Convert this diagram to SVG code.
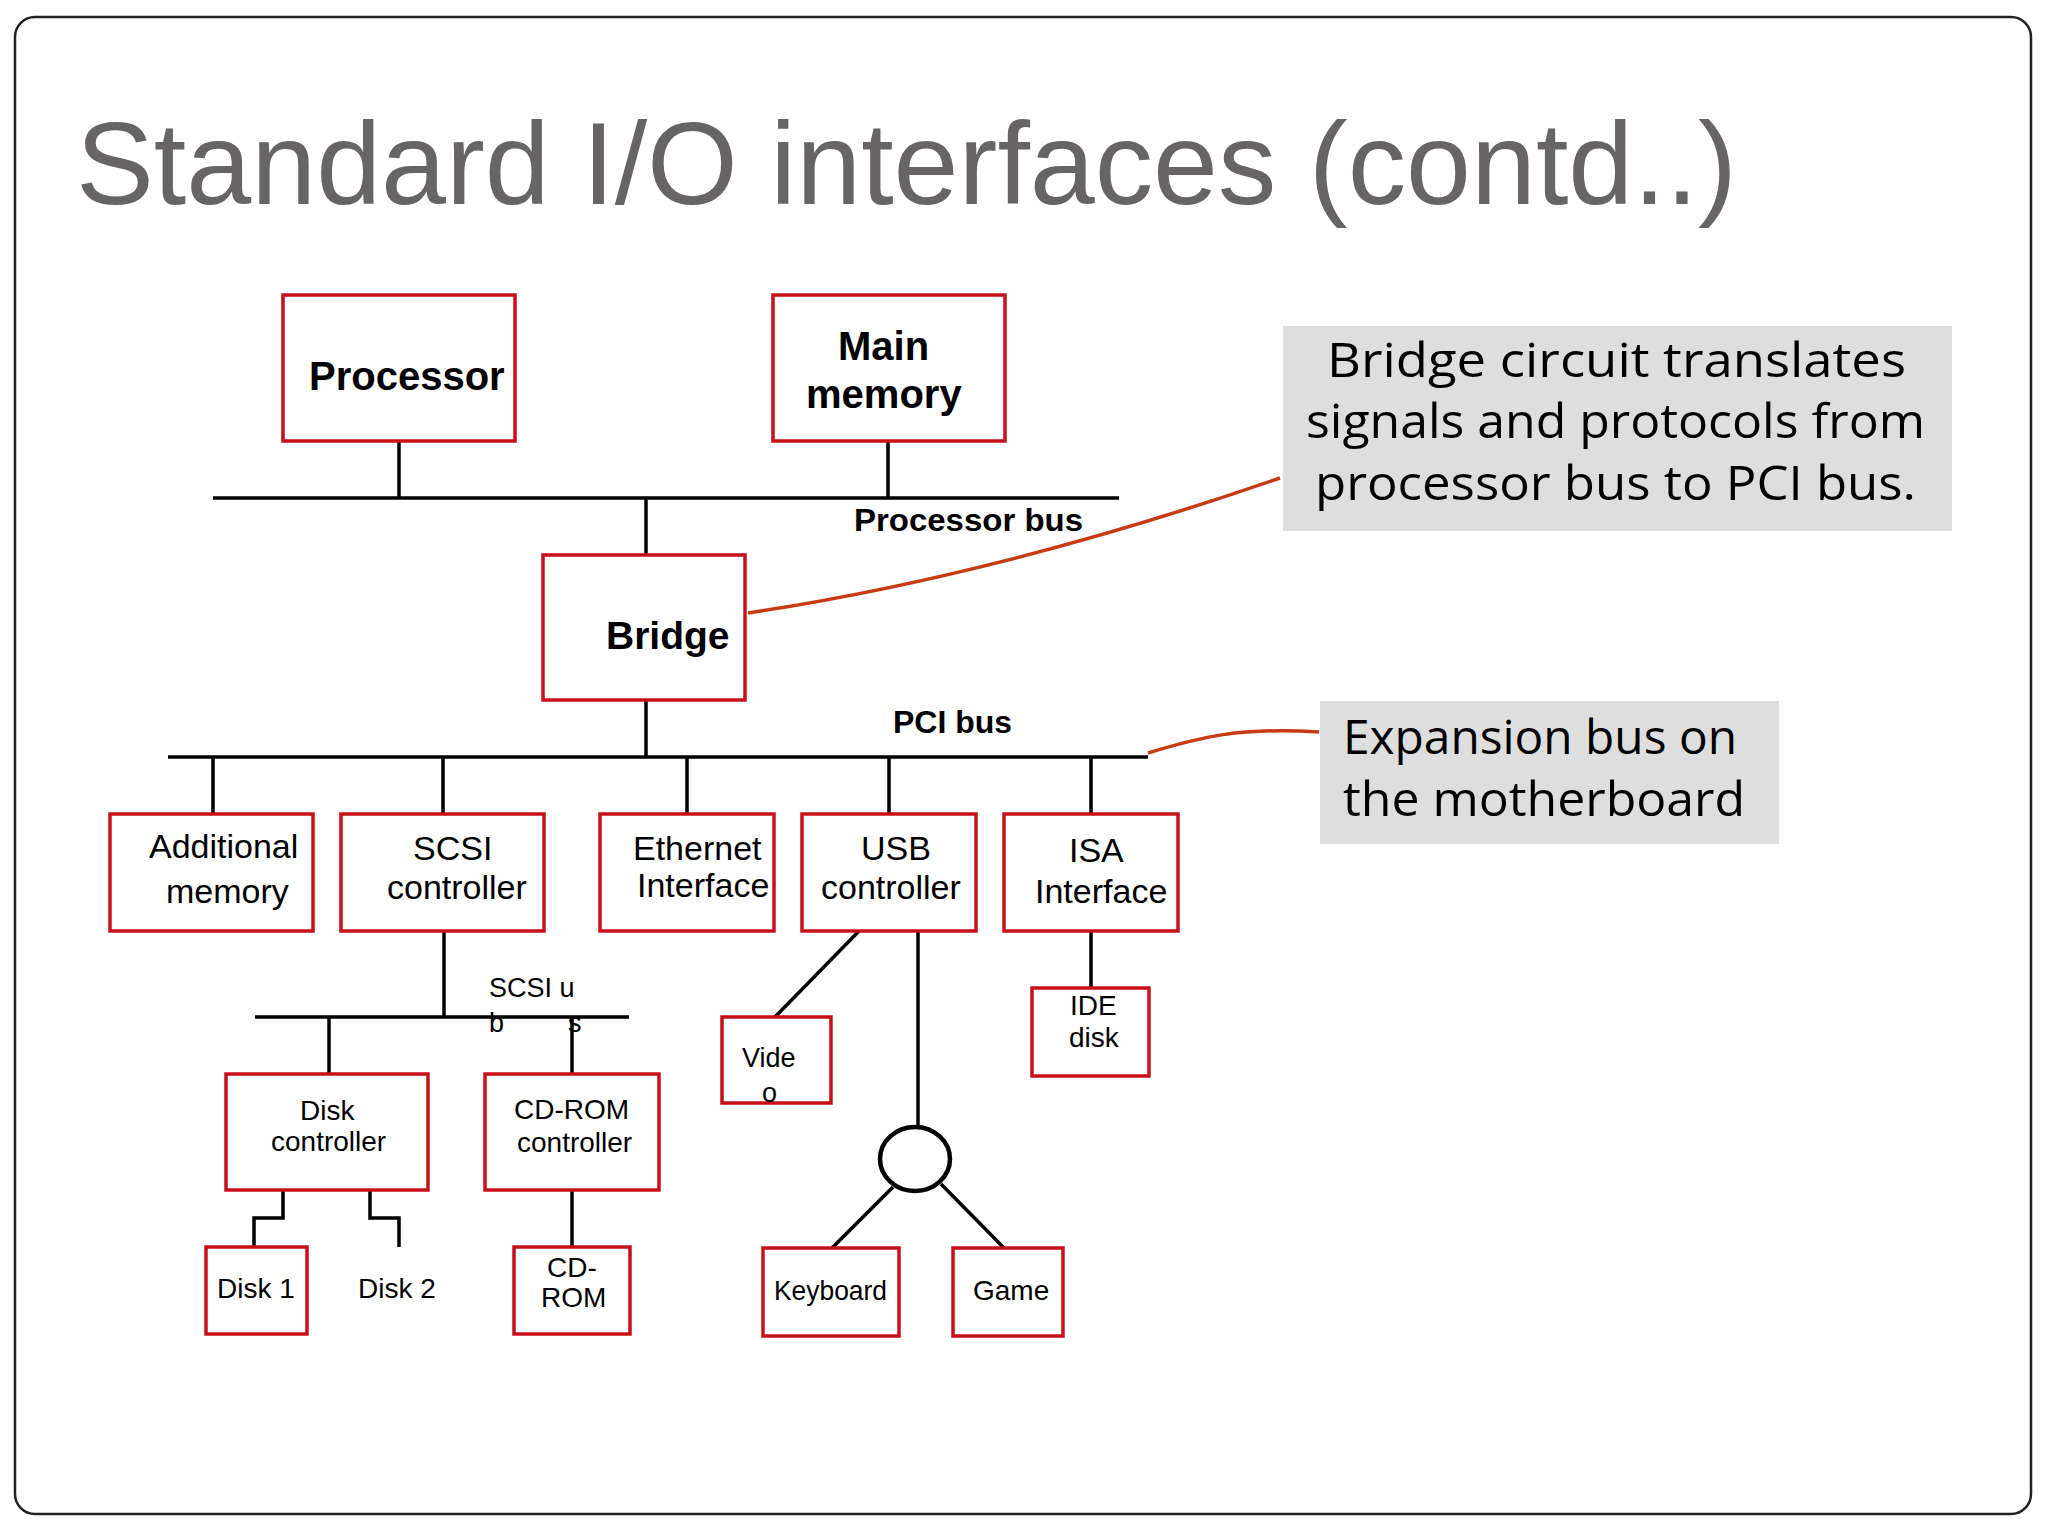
<svg xmlns="http://www.w3.org/2000/svg" width="2048" height="1536" viewBox="0 0 2048 1536">
<style>
.box{fill:#fff;stroke:#c8101a;stroke-width:3.5}
.ln{fill:none;stroke:#000;stroke-width:3.5}
.call{fill:none;stroke:#c73a12;stroke-width:3.5}
.t{font-family:"Liberation Sans",Arial,sans-serif;fill:#000}
.b{font-family:"Liberation Sans",Arial,sans-serif;font-weight:bold;fill:#000}
.c{font-family:"Comic Sans MS","Open Sans","Noto Sans",sans-serif;fill:#000}
.cbox{fill:#dedede}
</style>
<rect x="0" y="0" width="2048" height="1536" fill="#fff"/>
<rect x="15" y="17" width="2016" height="1497" rx="20" ry="20" fill="#fff" stroke="#222" stroke-width="2.5"/>
<text x="76" y="204" font-family="'Liberation Sans',Arial,sans-serif" font-size="117" fill="#666464" textLength="1661" lengthAdjust="spacingAndGlyphs">Standard I/O interfaces (contd..)</text>

<g id="connectors">
<path class="ln" d="M213 498 H1119"/>
<path class="ln" d="M399 441 V498"/>
<path class="ln" d="M888 441 V498"/>
<path class="ln" d="M646 498 V555"/>
<path class="ln" d="M646 700 V757"/>
<path class="ln" d="M168 757 H1148"/>
<path class="ln" d="M213 757 V814 M443 757 V814 M687 757 V814 M889 757 V814 M1091 757 V814"/>
<path class="ln" d="M444 931 V1017"/>
<path class="ln" d="M255 1017 H629"/>
<path class="ln" d="M329 1017 V1074"/>
<path class="ln" d="M572 1017 V1074"/>
<path class="ln" d="M283 1190 V1218 H254 V1247"/>
<path class="ln" d="M370 1190 V1218 H399 V1247"/>
<path class="ln" d="M572 1190 V1247"/>
<path class="ln" d="M1091 931 V988"/>
<path class="ln" d="M859 931 L775 1017"/>
<path class="ln" d="M918 931 V1127"/>
<path class="ln" d="M893 1187 L832 1248"/>
<path class="ln" d="M941 1184 L1004 1248"/>
<path class="call" d="M748 613 Q1000 575 1280 478"/>
<path class="call" d="M1148 753 C1200 737 1240 727 1319 732"/>
</g>

<g id="processor"><rect class="box" x="283" y="295" width="232" height="146"/><text class="b" x="309" y="390" font-size="40">Processor</text></g>
<g id="main-memory"><rect class="box" x="773" y="295" width="232" height="146"/><text class="b" x="838" y="360" font-size="40">Main</text><text class="b" x="806" y="408" font-size="40">memory</text></g>
<g id="processor-bus-label"><text class="b" x="854" y="531" font-size="32" textLength="229" lengthAdjust="spacingAndGlyphs">Processor bus</text></g>
<g id="bridge"><rect class="box" x="543" y="555" width="202" height="145"/><text class="b" x="606" y="649" font-size="39">Bridge</text></g>
<g id="pci-bus-label"><text class="b" x="893" y="733" font-size="32">PCI bus</text></g>

<g id="additional-memory"><rect class="box" x="110" y="814" width="203" height="117"/><text class="t" x="149" y="858" font-size="34">Additional</text><text class="t" x="166" y="903" font-size="34">memory</text></g>
<g id="scsi-controller"><rect class="box" x="341" y="814" width="203" height="117"/><text class="t" x="413" y="860" font-size="34">SCSI</text><text class="t" x="387" y="899" font-size="34">controller</text></g>
<g id="ethernet"><rect class="box" x="600" y="814" width="174" height="117"/><text class="t" x="633" y="860" font-size="34">Ethernet</text><text class="t" x="637" y="897" font-size="34">Interface</text></g>
<g id="usb-controller"><rect class="box" x="802" y="814" width="174" height="117"/><text class="t" x="861" y="860" font-size="34">USB</text><text class="t" x="821" y="899" font-size="34">controller</text></g>
<g id="isa-interface"><rect class="box" x="1004" y="814" width="174" height="117"/><text class="t" x="1069" y="862" font-size="34">ISA</text><text class="t" x="1035" y="903" font-size="34">Interface</text></g>

<g id="scsi-bus-label"><text class="t" x="489" y="997" font-size="27">SCSI u</text><text class="t" x="489" y="1032" font-size="27">b</text><text class="t" x="568" y="1032" font-size="27">s</text></g>

<g id="disk-controller"><rect class="box" x="226" y="1074" width="202" height="116"/><text class="t" x="300" y="1120" font-size="28">Disk</text><text class="t" x="271" y="1151" font-size="28">controller</text></g>
<g id="cdrom-controller"><rect class="box" x="485" y="1074" width="174" height="116"/><text class="t" x="514" y="1119" font-size="28">CD-ROM</text><text class="t" x="517" y="1152" font-size="28">controller</text></g>
<g id="video"><rect class="box" x="722" y="1017" width="109" height="86"/><text class="t" x="742" y="1067" font-size="27">Vide</text><text class="t" x="762" y="1102" font-size="27">o</text></g>
<g id="ide-disk"><rect class="box" x="1032" y="988" width="117" height="88"/><text class="t" x="1070" y="1015" font-size="28">IDE</text><text class="t" x="1069" y="1047" font-size="28">disk</text></g>
<g id="hub"><ellipse cx="915" cy="1159" rx="35" ry="32" fill="#fff" stroke="#000" stroke-width="4.5"/></g>
<g id="disk1"><rect class="box" x="206" y="1247" width="101" height="87"/><text class="t" x="217" y="1298" font-size="28">Disk 1</text></g>
<g id="disk2"><text class="t" x="358" y="1298" font-size="28">Disk 2</text></g>
<g id="cdrom"><rect class="box" x="514" y="1247" width="116" height="87"/><text class="t" x="547" y="1277" font-size="28">CD-</text><text class="t" x="541" y="1307" font-size="28">ROM</text></g>
<g id="keyboard"><rect class="box" x="763" y="1248" width="136" height="88"/><text class="t" x="774" y="1300" font-size="28" textLength="113" lengthAdjust="spacingAndGlyphs">Keyboard</text></g>
<g id="game"><rect class="box" x="953" y="1248" width="110" height="88"/><text class="t" x="973" y="1300" font-size="28">Game</text></g>

<g id="bridge-callout"><rect class="cbox" x="1283" y="326" width="669" height="205"/>
<text class="c" x="1327" y="377" font-size="48" textLength="579" lengthAdjust="spacingAndGlyphs">Bridge circuit translates</text>
<text class="c" x="1306" y="438" font-size="48" textLength="619" lengthAdjust="spacingAndGlyphs">signals and protocols from</text>
<text class="c" x="1315" y="500" font-size="48" textLength="601" lengthAdjust="spacingAndGlyphs">processor bus to PCI bus.</text></g>
<g id="expansion-callout"><rect class="cbox" x="1320" y="701" width="459" height="143"/>
<text class="c" x="1343" y="754" font-size="48" textLength="394" lengthAdjust="spacingAndGlyphs">Expansion bus on</text>
<text class="c" x="1343" y="816" font-size="48" textLength="402" lengthAdjust="spacingAndGlyphs">the motherboard</text></g>
</svg>
